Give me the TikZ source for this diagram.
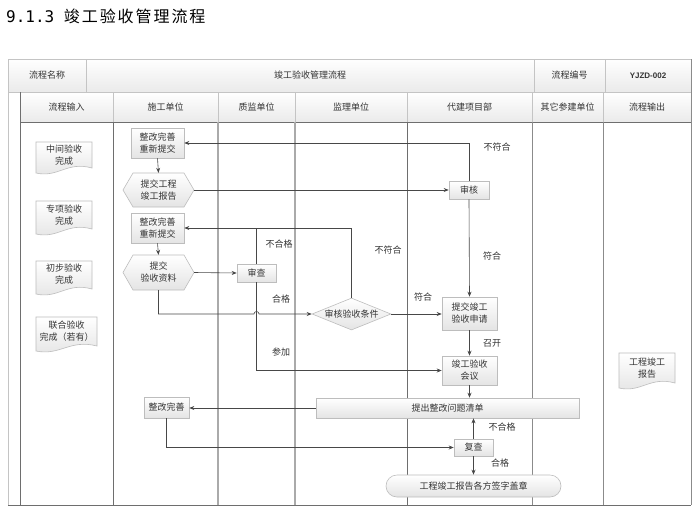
\documentclass[tikz,border=0pt]{standalone}
\usepackage{fontspec}
\setmainfont{Noto Sans CJK SC}
\newfontfamily\titlecjk[LetterSpace=12]{Noto Sans CJK SC}
\newfontfamily\titlemono{DejaVu Sans Mono}
\newfontfamily\latinsans{Liberation Sans}
\usetikzlibrary{arrows.meta,shapes.geometric,calc}

\definecolor{boxline}{HTML}{BDBDBD}
\definecolor{boxfill}{HTML}{E4E4E4}
\definecolor{hdrfill}{HTML}{EAEAEA}
\definecolor{hdrline}{HTML}{C4C4C4}
\definecolor{lanedark}{HTML}{6E6E6E}
\definecolor{lanegray}{HTML}{AAAAAA}
\definecolor{conn}{HTML}{474747}
\definecolor{txt}{HTML}{333333}

\newcommand{\lbl}{\fontsize{9}{12}\selectfont}

\tikzset{
  boxshade/.style={draw=boxline, line width=0.6pt, top color=white, bottom color=boxfill},
  flowbox/.style={boxshade, rectangle, align=center, font=\lbl, text=txt, inner sep=1pt},
  plaintext/.style={align=center, font=\lbl, text=txt, inner sep=1pt},
  arr/.style={draw=conn, line width=0.6pt, -{Stealth[length=5pt,width=4pt]}},
  conline/.style={draw=conn, line width=0.6pt},
  hdr/.style={draw=hdrline, line width=0.6pt, top color=white, bottom color=hdrfill},
}

% hexagon: cx cy w h
\newcommand{\hexpath}[4]{%
  \path[boxshade] ({#1-#3/2},#2) -- ({#1-#3/2+10},{#2-#4/2}) -- ({#1+#3/2-10},{#2-#4/2})
    -- ({#1+#3/2},#2) -- ({#1+#3/2-10},{#2+#4/2}) -- ({#1-#3/2+10},{#2+#4/2}) -- cycle;}
% document: cx top w bottom
\newcommand{\docpath}[4]{%
  \path[boxshade] ({#1-#3/2},#2) -- ({#1+#3/2},#2) -- ({#1+#3/2},{#4-6})
    .. controls ({#1+0.05*#3},{#4-13}) and ({#1-0.1*#3},{#4+4}) .. ({#1-#3/2},{#4-1}) -- cycle;}

\begin{document}
\begin{tikzpicture}[x=1pt,y=-1pt]
\useasboundingbox[fill=white] (0,0) rectangle (699,509);

% title
\node[anchor=west, inner sep=0pt, text=black] (title) at (6,16)
  {\fontsize{16}{19}\selectfont{\titlemono 9.1.3 }\titlecjk 竣工验收管理流程};

% header row 1
\path[hdr] (8,59) rectangle (86,92);
\path[hdr] (86,59) rectangle (534,92);
\path[hdr] (534,59) rectangle (605,92);
\path[hdr] (605,59) rectangle (691,92);
\node[plaintext] (hA) at (47,75.5) {流程名称};
\node[plaintext] (hB) at (310,75.5) {竣工验收管理流程};
\node[plaintext] (hC) at (569.5,75.5) {流程编号};
\node[plaintext, font=\latinsans\bfseries\fontsize{8}{10}\selectfont] (hD) at (648,75.5) {YJZD-002};

% header row 2
\path[draw=hdrline, line width=0.6pt, fill=white] (8,92) rectangle (20,505);
\foreach \a/\b in {20/113,113/218,218/295,295/407,407/532,532/603,603/691}
  \path[hdr] (\a,92) rectangle (\b,122);
\node[plaintext] (l1) at (66.5,107) {流程输入};
\node[plaintext] (l2) at (165.5,107) {施工单位};
\node[plaintext] (l3) at (256.5,107) {质监单位};
\node[plaintext] (l4) at (351,107) {监理单位};
\node[plaintext] (l5) at (469.5,107) {代建项目部};
\node[plaintext] (l6) at (567.5,107) {其它参建单位};
\node[plaintext] (l7) at (647,107) {流程输出};

% lane body lines
\draw[lanedark, line width=0.8pt] (20,122) -- (691,122);
\draw[lanedark, line width=0.8pt] (20,92) -- (20,505);
\draw[lanedark, line width=0.7pt] (113,122) -- (113,505);
\draw[lanegray, line width=1.2pt] (218,122) -- (218,505);
\draw[lanegray, line width=1.2pt] (295,122) -- (295,505);
\draw[lanedark, line width=0.7pt] (407,122) -- (407,505);
\draw[lanedark!80, line width=0.7pt] (532,122) -- (532,505);
\draw[lanedark!80, line width=0.7pt] (603,122) -- (603,505);
\draw[lanedark!80, line width=0.7pt] (691,59) -- (691,505);
\draw[lanedark, line width=0.8pt] (8,505) -- (691,505);

% input documents
\docpath{64}{142}{56}{174}
\node[plaintext] (d1) at (64,155) {中间验收\\完成};
\docpath{64}{201}{56}{235}
\node[plaintext] (d2) at (64,215) {专项验收\\完成};
\docpath{64}{261}{56}{295}
\node[plaintext] (d3) at (64,274) {初步验收\\完成};
\docpath{66.5}{317}{61}{352}
\node[plaintext] (d4) at (66.5,331) {联合验收\\完成（若有）};
% output document
\docpath{647}{353}{56}{389}
\node[plaintext] (dout) at (647,368) {工程竣工\\报告};

% construction unit
\node[flowbox, minimum width=53pt, minimum height=30pt] (box1) at (157.5,143) {整改完善\\重新提交};
\hexpath{158.5}{190}{71}{34}
\node[plaintext, minimum width=71pt, minimum height=34pt] (hex1) at (158.5,190) {提交工程\\竣工报告};
\node[flowbox, minimum width=53pt, minimum height=30pt] (box2) at (157.5,228) {整改完善\\重新提交};
\hexpath{158.5}{272.5}{71}{35}
\node[plaintext, minimum width=71pt, minimum height=35pt] (hex2) at (158.5,272.5) {提交\\验收资料};
\node[flowbox, minimum width=45pt, minimum height=21pt] (box3) at (166.5,407.5) {整改完善};

% supervision
\node[flowbox, minimum width=39pt, minimum height=18pt] (shencha) at (256.5,273) {审查};
\node[shape=diamond, boxshade, aspect=2.5, inner sep=0.5pt, minimum width=79pt, minimum height=32pt,
      font=\lbl, text=txt] (dia) at (351.5,314) {审核验收条件};

% project dept
\node[flowbox, minimum width=40pt, minimum height=18pt] (shenhe) at (469,190) {审核};
\node[flowbox, minimum width=55pt, minimum height=33pt] (app) at (469.5,313.5) {提交竣工\\验收申请};
\node[flowbox, minimum width=55pt, minimum height=29pt] (meet) at (469.5,370.5) {竣工验收\\会议};
\node[flowbox, minimum width=263pt, minimum height=20pt] (list) at (447.5,408) {提出整改问题清单};
\node[flowbox, minimum width=39pt, minimum height=17pt] (fucha) at (473.5,447.5) {复查};
\node[flowbox, rounded corners=11pt, minimum width=175pt, minimum height=22pt] (sign) at (473.5,486) {工程竣工报告各方签字盖章};

% connectors
\draw[arr] (box1.south) -- (hex1.north);
\draw[arr] (box2.south) -- (hex2.north);
\draw[arr] (hex1.east) -- (shenhe.west);
\draw[arr] (shenhe.north) |- (box1.east);
\draw[arr] (shenhe.south) -- (app.north);
\draw[arr] (hex2.east) -- (shencha.west);
\draw[arr] (dia.north) |- (box2.east);
\draw[conline] (shencha.north) -- (shencha.north |- box2.east);
\coordinate (cross) at (shencha.south |- dia.west);
\draw[arr] (hex2.south) |- ([xshift=-2.5pt]cross) arc[start angle=180, end angle=0, radius=2.5pt] -- (dia.west);
\draw[arr] (shencha.south) |- (meet.west);
\draw[arr] (dia.east) -- (dia.east -| app.west);
\draw[arr] (app.south) -- (meet.north);
\draw[arr] (meet.south) -- (meet.south |- list.north);
\draw[arr] (list.west) -- (list.west -| box3.east);
\draw[arr] (box3.south) |- (fucha.west);
\draw[arr] (fucha.north) -- (fucha.north |- list.south);
\draw[arr] (fucha.south) -- (sign.north);

% labels
\node[plaintext] (t1) at (497,147) {不符合};
\node[plaintext] (t2) at (492,256) {符合};
\node[plaintext] (t3) at (279,244) {不合格};
\node[plaintext] (t4) at (388,250) {不符合};
\node[plaintext] (t5) at (281,299) {合格};
\node[plaintext] (t6) at (281,352) {参加};
\node[plaintext] (t7) at (423,297) {符合};
\node[plaintext] (t8) at (492,343) {召开};
\node[plaintext] (t9) at (502,427) {不合格};
\node[plaintext] (t10) at (500,463) {合格};
\end{tikzpicture}
\end{document}
